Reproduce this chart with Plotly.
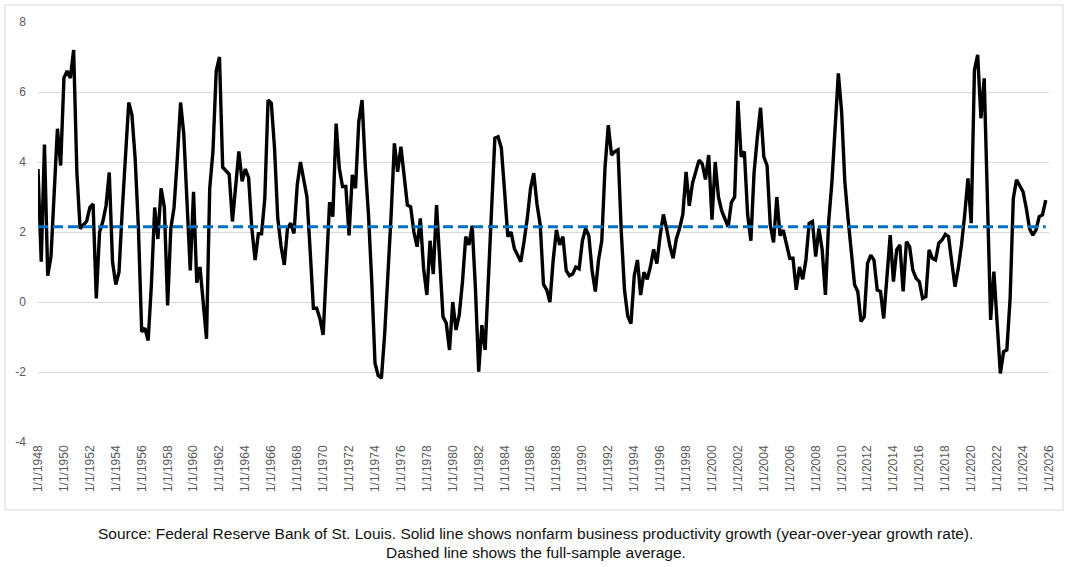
import plotly.graph_objects as go
import pandas as pd

start_date = "1948-01-01"

# Nonfarm business productivity growth, year-over-year %, quarterly
growth = [
    3.8, 1.15, 4.5, 0.75, 1.3, 3.2, 4.95, 3.9, 6.4, 6.6, 6.4, 7.2,
    3.7, 2.1, 2.2, 2.3, 2.7, 2.8, 0.1, 2.0, 2.3, 2.75, 3.7, 1.15,
    0.5, 0.85, 2.6, 4.2, 5.7, 5.35, 4.1, 2.1, -0.85, -0.75, -1.1, 0.5,
    2.7, 1.8, 3.25, 2.7, -0.1, 2.1, 2.7, 4.1, 5.7, 4.8, 2.9, 0.9,
    3.15, 0.55, 1.0, 0.0, -1.05, 3.25, 4.3, 6.6, 7.0, 3.85, 3.75, 3.65,
    2.3, 3.3, 4.3, 3.45, 3.8, 3.55, 2.1, 1.2, 1.95, 1.95, 2.95, 5.77,
    5.68, 4.4, 2.4, 1.6, 1.06, 2.1, 2.25, 1.96, 3.34, 4.0, 3.53, 3.0,
    1.44, -0.18, -0.18, -0.47, -0.94, 0.96, 2.85, 2.44, 5.1, 3.82, 3.3, 3.3,
    1.9, 3.63, 3.25, 5.15, 5.77, 3.9, 2.5, 0.58, -1.75, -2.1, -2.18, -0.9,
    0.77, 2.5, 4.53, 3.72, 4.44, 3.63, 2.77, 2.72, 2.0, 1.58, 2.39, 0.96,
    0.2, 1.75, 0.8, 2.77, 1.15, -0.42, -0.6, -1.37, 0.0, -0.8, -0.37, 0.58,
    1.87, 1.63, 2.18, 0.39, -1.99, -0.66, -1.37, 0.58, 2.49, 4.68, 4.72, 4.4,
    3.15, 1.87, 2.0, 1.53, 1.34, 1.15, 1.72, 2.39, 3.25, 3.68, 2.8, 2.2,
    0.5, 0.35, 0.0, 1.2, 2.06, 1.63, 1.87, 0.9, 0.75, 0.8, 1.0, 0.95,
    1.75, 2.1, 1.9, 0.9, 0.3, 1.2, 1.75, 3.85, 5.05, 4.2, 4.3, 4.35,
    2.0, 0.35, -0.4, -0.62, 0.75, 1.2, 0.2, 0.85, 0.65, 1.0, 1.5, 1.1,
    1.9, 2.5, 2.1, 1.6, 1.25, 1.8, 2.1, 2.5, 3.72, 2.75, 3.4, 3.75,
    4.05, 3.95, 3.5, 4.2, 2.35, 4.0, 3.0, 2.6, 2.4, 2.15, 2.85, 3.0,
    5.75, 4.15, 4.3, 2.5, 1.75, 3.7, 4.7, 5.55, 4.15, 3.9, 2.2, 1.7,
    3.0, 1.9, 2.05, 1.6, 1.25, 1.25, 0.35, 1.0, 0.65, 1.2, 2.25, 2.3,
    1.3, 2.1, 1.5, 0.2, 2.3, 3.4, 5.0, 6.53, 5.44, 3.44, 2.39, 1.34,
    0.49, 0.3, -0.56, -0.42, 1.1, 1.34, 1.2, 0.34, 0.3, -0.47, 0.68, 1.91,
    0.58, 1.49, 1.63, 0.3, 1.72, 1.58, 0.91, 0.68, 0.58, 0.1, 0.15, 1.49,
    1.25, 1.2, 1.68, 1.77, 1.93, 1.87, 1.15, 0.44, 0.96, 1.63, 2.49, 3.53,
    2.25, 6.63, 7.06, 5.25, 6.39, 2.7, -0.51, 0.87, -0.6, -2.04, -1.42, -1.37,
    0.1, 2.96, 3.49, 3.3, 3.15, 2.68, 2.1, 1.91, 2.06, 2.44, 2.49, 2.91,
]

sample_average = 2.15

tick_years = list(range(1948, 2027, 2))
tick_labels = [f"1/1/{y}" for y in tick_years]
y_ticks = [-4, -2, 0, 2, 4, 6, 8]

caption_1 = ("Source: Federal Reserve Bank of St. Louis. Solid line shows nonfarm business "
             "productivity growth (year-over-year growth rate).")
caption_2 = "Dashed line shows the full-sample average."

dates = pd.date_range(start_date, periods=len(growth), freq="QS")

fig = go.Figure()
fig.add_trace(go.Scatter(
    x=dates, y=growth, mode="lines",
    line=dict(color="#000000", width=3.4),
    showlegend=False, hoverinfo="skip",
))
fig.add_trace(go.Scatter(
    x=[dates[0], dates[-1]], y=[sample_average, sample_average], mode="lines",
    line=dict(color="#0070C0", width=3, dash="10px,5px"),
    showlegend=False, hoverinfo="skip",
))

W, H = 1080, 567
L, R, T, B = 38, 31, 22, 125
pw = W - L - R
ph = H - T - B

def px_x(p):
    return (p - L) / pw

def px_y(p):
    return (H - B - p) / ph

fig.update_layout(
    width=W, height=H,
    margin=dict(l=L, r=R, t=T, b=B),
    paper_bgcolor="white", plot_bgcolor="white",
    font=dict(family="Liberation Sans, Arial, sans-serif", color="#595959"),
    xaxis=dict(
        type="date",
        range=["1948-01-01", "2026-01-01"],
        tickmode="array",
        tickvals=[f"{y}-01-01" for y in tick_years],
        ticktext=tick_labels,
        tickangle=-90,
        tickfont=dict(size=12, color="#595959"),
        showgrid=False, zeroline=False, showline=False,
        ticks="",
    ),
    yaxis=dict(
        range=[-4, 8],
        tickmode="array",
        tickvals=y_ticks,
        ticktext=[str(v) for v in y_ticks],
        tickfont=dict(size=12, color="#595959"),
        showgrid=True, gridcolor="#D9D9D9", gridwidth=1,
        zeroline=False, showline=False, ticks="",
        ticklabelstandoff=11,
    ),
    shapes=[dict(
        type="rect", xref="paper", yref="paper",
        x0=px_x(5), x1=px_x(1063), y0=px_y(510), y1=px_y(5),
        line=dict(color="#D9D9D9", width=1), fillcolor="rgba(0,0,0,0)",
        layer="below",
    )],
    annotations=[
        dict(text=caption_1, xref="paper", yref="paper", x=px_x(535), y=px_y(533),
             xanchor="center", yanchor="middle", showarrow=False,
             font=dict(size=15.5, color="#111111", family="Liberation Sans, Arial, sans-serif")),
        dict(text=caption_2, xref="paper", yref="paper", x=px_x(536), y=px_y(552),
             xanchor="center", yanchor="middle", showarrow=False,
             font=dict(size=15.5, color="#111111", family="Liberation Sans, Arial, sans-serif")),
    ],
)

fig.write_html("out.html")
